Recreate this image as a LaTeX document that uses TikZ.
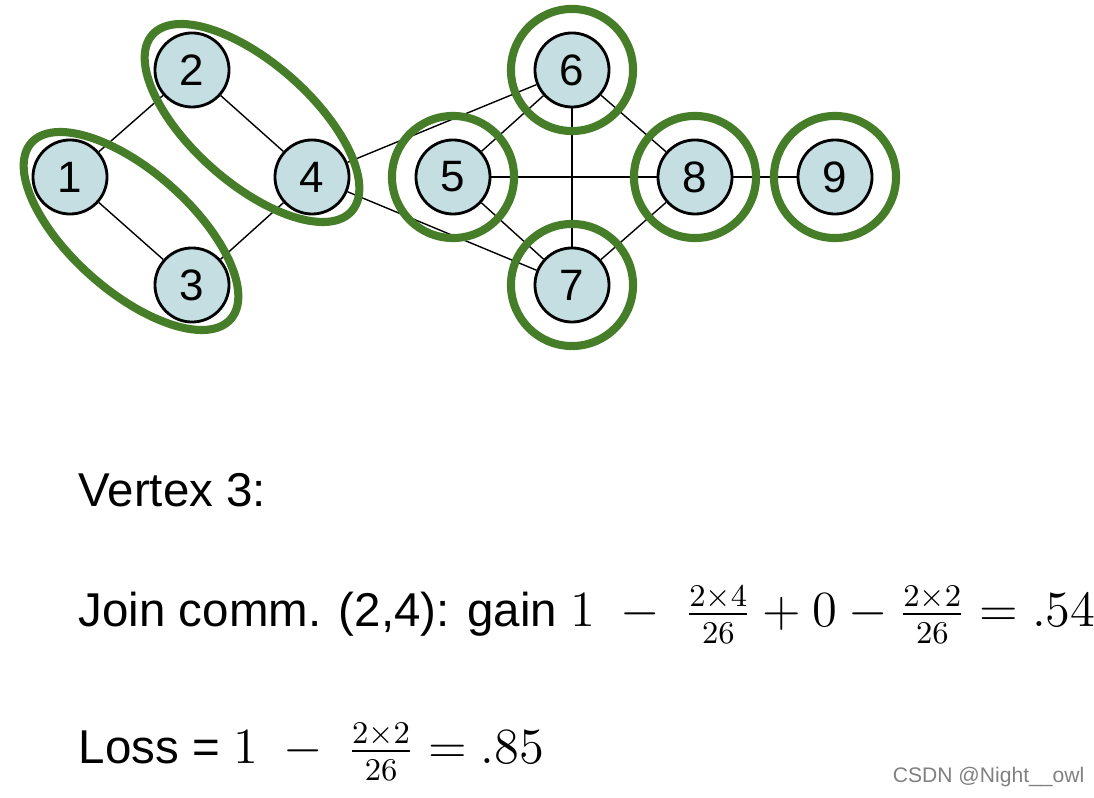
\documentclass[tikz,border=0pt]{standalone}
\usepackage{amsmath}
\usepackage{fontspec}
\setmainfont{Liberation Sans}
\usetikzlibrary{positioning}
\definecolor{nodeblue}{RGB}{197,222,226}
\definecolor{commgreen}{RGB}{70,125,40}
\tikzset{
    vertex/.style={circle, draw, thick, fill=nodeblue, minimum size=0.74cm, inner sep=0pt, font=\fontsize{12.5}{14}\selectfont},
    edge/.style={thin},
    comm/.style={draw=commgreen, line width=2.3pt},
    txt/.style={anchor=west, inner sep=0pt, font=\fontsize{13.5}{16}\selectfont}
}
\begin{document}
\begin{tikzpicture}[x=0.01cm, y=-0.01cm]
    \useasboundingbox (0,0) rectangle (1094,798);
    % vertices
    \node[vertex] (v1) at (70,177) {1};
    \node[vertex] (v2) at (192,70) {2};
    \node[vertex] (v3) at (192,285) {3};
    \node[vertex] (v4) at (312,177) {4};
    \node[vertex] (v5) at (453,177) {5};
    \node[vertex] (v6) at (572,70) {6};
    \node[vertex] (v7) at (572,285) {7};
    \node[vertex] (v8) at (695,177) {8};
    \node[vertex] (v9) at (835,177) {9};

    % edges
    \foreach \a/\b in {1/2,1/3,2/4,3/4,4/6,4/7,5/6,5/7,5/8,6/7,6/8,7/8,8/9}
        \draw[edge] (v\a) -- (v\b);

    % communities
    \draw[comm, rotate around={-41.5:(131,231)}] (131,231) ellipse (1.33cm and 0.6cm);
    \draw[comm, rotate around={-41.5:(252,123)}] (252,123) ellipse (1.33cm and 0.6cm);
    \foreach \v in {5,6,7,8,9}
        \draw[comm] (v\v) circle (0.61cm);

    % text
    \node[txt] (vert) at (78,490) {Vertex 3:};
    \node[txt] (join) at (78,615) {Join comm. (2,4): gain $1\;-\;\frac{2\times4}{26}+0-\frac{2\times2}{26}=.54$};
    \node[txt] (loss) at (78,752) {Loss = $1\;-\;\frac{2\times2}{26}=.85$};
    \node[anchor=east, inner sep=0pt, text=gray, font=\fontsize{6}{7}\selectfont] (mark) at (1085,777) {CSDN @Night\_\_owl};
\end{tikzpicture}
\end{document}
